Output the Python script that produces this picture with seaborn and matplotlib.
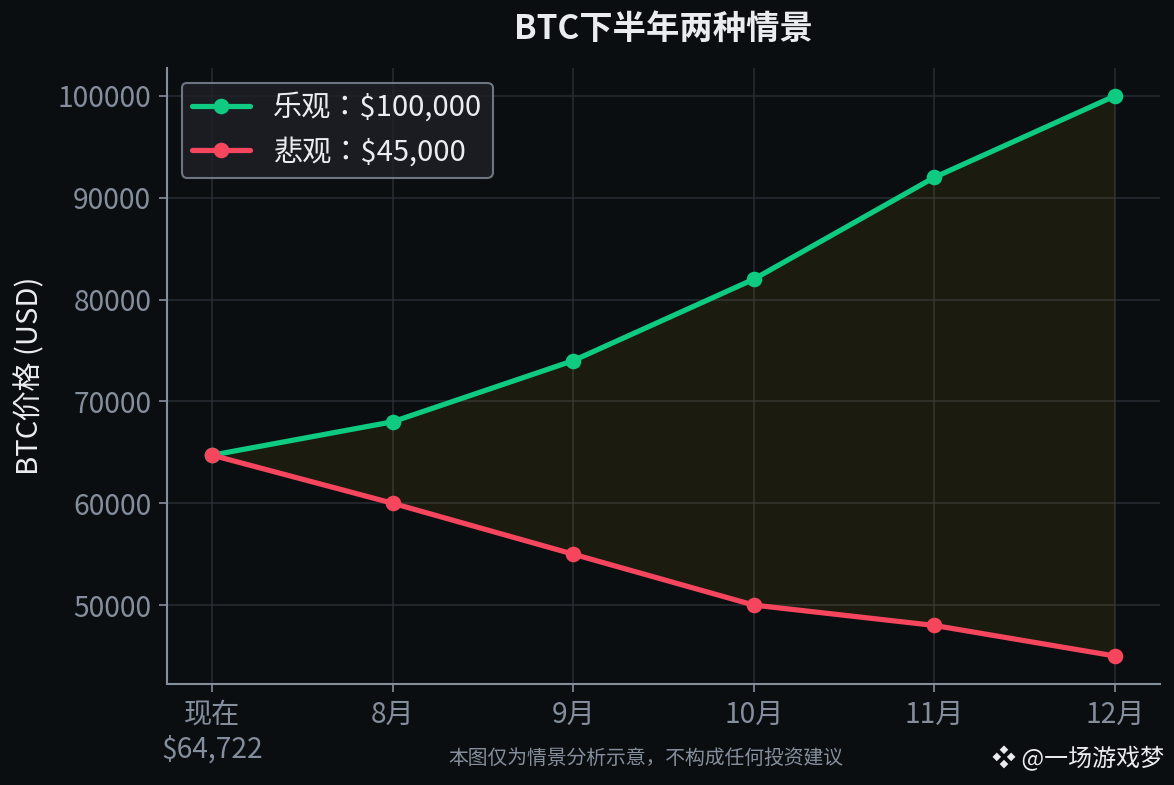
import matplotlib
matplotlib.use("Agg")
import matplotlib.pyplot as plt
import seaborn as sns
import pandas as pd
import numpy as np

# ---- data ----
months = ["现在\n$64,722", "8月", "9月", "10月", "11月", "12月"]
bull = [64722, 68000, 74000, 82000, 92000, 100000]
bear = [64722, 60000, 55000, 50000, 48000, 45000]
labels = ["乐观：$100,000", "悲观：$45,000"]

BG = "#0b0e11"
GREEN = "#0ecb81"
RED = "#f6465d"
YELLOW = "#f0b90b"
GRAY = "#848e9c"
TXT = "#eaecef"

sns.set_theme(style="dark")
plt.rcParams['font.family'] = ['Noto Sans CJK JP', 'DejaVu Sans']
plt.rcParams['axes.unicode_minus'] = False

pos = list(range(len(months)))
df = pd.DataFrame({
    "pos": pos * 2,
    "price": bull + bear,
    "scenario": [labels[0]] * len(pos) + [labels[1]] * len(pos),
})

fig = plt.figure(figsize=(1174 / 150, 785 / 150), dpi=150, facecolor=BG)
ax = fig.add_axes([0.1422, 0.1287, 0.988 - 0.1422, 0.9134 - 0.1287])
ax.set_facecolor(BG)

ax.fill_between(pos, bear, bull, color=YELLOW, alpha=0.08, linewidth=0, zorder=1)
sns.lineplot(data=df, x="pos", y="price", hue="scenario",
             palette={labels[0]: GREEN, labels[1]: RED},
             marker="o", markersize=7.5, markeredgewidth=0, linewidth=2.5,
             ax=ax, zorder=3)

ax.set_xticks(pos)
ax.set_xticklabels(months)
ax.tick_params(axis="both", colors=GRAY, labelsize=13.5, length=4, width=0.8,
               labelcolor=GRAY, bottom=True, left=True)
ax.set_xlabel("")
ax.set_ylabel("BTC价格 (USD)", color=TXT, fontsize=14, labelpad=6)
ax.set_title("BTC下半年两种情景", color=TXT, fontsize=16, fontweight="bold", pad=14)

ax.grid(True, color="#2b3139", linewidth=0.8, alpha=0.8)
for s in ["top", "right"]:
    ax.spines[s].set_visible(False)
for s in ["left", "bottom"]:
    ax.spines[s].set_visible(True)
    ax.spines[s].set_color(GRAY)
    ax.spines[s].set_linewidth(1.0)

leg = ax.legend(loc="upper left", fontsize=14, frameon=True,
                facecolor="#1e2026", edgecolor=GRAY, framealpha=0.8,
                title=None, borderpad=0.35)
for t in leg.get_texts():
    t.set_color(TXT)

fig.text(0.55, 0.034, "本图仅为情景分析示意，不构成任何投资建议", color=GRAY,
         fontsize=9.5, ha="center", va="center")
fig.text(0.992, 0.034, "❖ @一场游戏梦", color=TXT, fontsize=11.5,
         ha="right", va="center")

fig.savefig("out.png", dpi=150, facecolor=BG)
